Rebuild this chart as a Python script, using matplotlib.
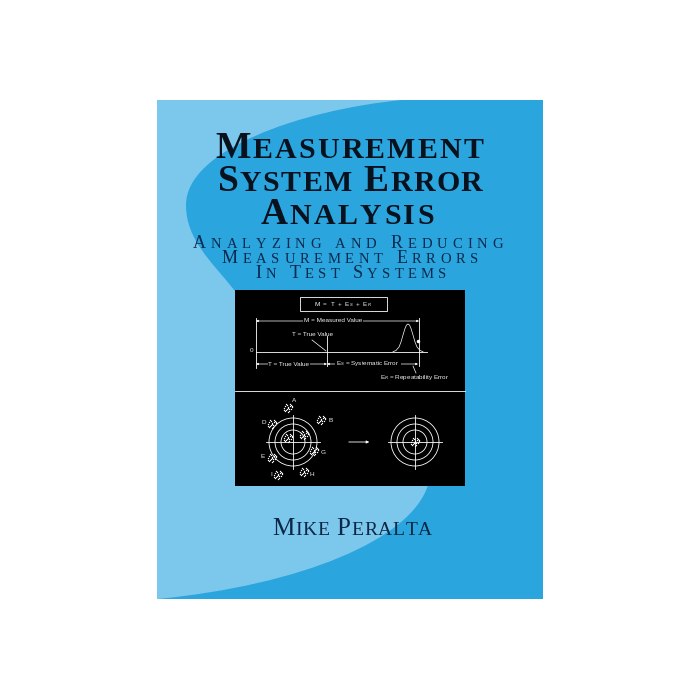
import matplotlib
matplotlib.use('Agg')
import matplotlib.pyplot as plt
from matplotlib.path import Path
from matplotlib.patches import PathPatch, Rectangle, Circle

# cover texts
title_lines = ['Measurement', 'System Error', 'Analysis']
title_centers = [349, 350, 347]
title_baselines = [158, 191, 224]
title_widths = [268, 265, 173]

subtitle_lines = ['Analyzing and Reducing', 'Measurement Errors', 'In Test Systems']
subtitle_centers = [348, 350, 351]
subtitle_baselines = [248, 263, 278]
subtitle_widths = [310, 256, 191]

author = 'Mike Peralta'

# background wave (pixel coords of the cover)
wave_pts = [(402, 100), (300, 110), (186, 150), (186, 205),
            (186, 240), (212, 262), (235, 291),
            (295, 375), (445, 430), (428, 485),
            (411, 540), (300, 585), (158, 599)]

# bell curve
bell_dx = [-15, -12, -9, -7, -5, -3, -1.5, 0, 1.5, 3, 5, 7, 9, 12, 15]
bell_h = [0.3, 1.5, 5, 10, 17, 23.5, 27, 28, 27, 23.5, 17, 10, 5, 1.5, 0.3]

# shot clusters on the left target
cluster_x = [288, 321, 272, 288, 304, 314, 272, 278, 304]
cluster_y = [408, 420, 424, 438, 435, 451, 458, 475, 472]
label_text = ['A', 'B', 'D', 'G', 'E', 'I', 'H']
label_x = [294, 331, 264, 323, 263, 271, 312]
label_y = [400, 421, 423, 453, 457, 475, 474]
# dot pattern used for one cluster
spot_dx = [-4, -3, -2, -1, 0, 1, 2, 3, 4, -2, 0, 2, -3, 3, 1, -1, 0, -4, 4]
spot_dy = [0, -2, 2, -3, 0, 3, -2, 1, -1, -4, 4, -4, 3, -3, 1, 1, -1, 2, -2]
ring_r = [24, 18, 12]

LIGHT = '#7cc7ec'
DARK = '#2aa5de'

fig = plt.figure(figsize=(7, 7), dpi=100)
ax = fig.add_axes([0, 0, 1, 1])
ax.set_xlim(0, 700)
ax.set_ylim(700, 0)
ax.axis('off')
renderer = fig.canvas.get_renderer()

# cover background
ax.add_patch(Rectangle((157, 100), 386, 499, facecolor=LIGHT, edgecolor='none'))
verts = wave_pts + [(543, 599), (543, 100), (402, 100)]
codes = [Path.MOVETO] + [Path.CURVE4] * 12 + [Path.LINETO, Path.LINETO, Path.CLOSEPOLY]
ax.add_patch(PathPatch(Path(verts, codes), facecolor=DARK, edgecolor='none'))


def small_caps(text, cx, y, big, small, color, width, weight='normal'):
    chars = []
    for ch in text:
        if ch == ' ':
            chars.append((None, small * 0.3 * 100 / 72))
            continue
        size = big if ch.isupper() else small
        t = ax.text(0, y, ch.upper(), fontsize=size, family='Liberation Serif',
                    weight=weight, color=color, ha='left', va='baseline')
        chars.append((t, t.get_window_extent(renderer).width))
    natural = sum(w for _, w in chars)
    track = (width - natural) / (len(chars) - 1)
    x = cx - width / 2
    for t, w in chars:
        if t is not None:
            t.set_x(x)
        x += w + track


for line, cx, y, w in zip(title_lines, title_centers, title_baselines, title_widths):
    small_caps(line, cx, y, 27, 21.5, '#08121e', w, weight='bold')
for line, cx, y, w in zip(subtitle_lines, subtitle_centers, subtitle_baselines, subtitle_widths):
    small_caps(line, cx, y, 13, 10.5, '#0b2a4d', w)
small_caps(author, 352, 535, 18, 14, '#0c2646', 160)

# black diagram panel
ax.add_patch(Rectangle((235, 290), 230, 196, facecolor='black', edgecolor='none'))
wl = dict(color='white', lw=0.6)
sans = dict(family='Liberation Sans', color='#f0f0f0', fontsize=4.6)
bg = dict(facecolor='black', edgecolor='none', pad=0.6)

ax.add_patch(Rectangle((300, 297), 87, 14, facecolor='none', edgecolor='white', lw=0.6))
ax.text(343, 304.5, r'M  =  T  +  E$_S$  +  E$_R$', ha='center', va='center', **sans)

arrow = dict(arrowstyle='<|-|>', color='white', lw=0.5, mutation_scale=3, shrinkA=0, shrinkB=0)
ax.annotate('', xy=(256, 321), xytext=(419, 321), arrowprops=arrow)
ax.text(333, 321, 'M = Measured Value', ha='center', va='center', bbox=bg, **sans)
ax.plot([256, 256], [318, 368], **wl)
ax.plot([419, 419], [318, 366], **wl)
ax.plot([256, 427], [352, 352], **wl)
ax.text(253, 350, '0', ha='right', va='center', **sans)
ax.plot([327, 327], [336, 366], **wl)
ax.text(313, 335, 'T = True Value', ha='center', va='center', **sans)
ax.plot([312, 326], [340, 351], color='white', lw=0.5)
ax.plot([408 + d for d in bell_dx], [352 - h for h in bell_h], color='white', lw=0.5)
ax.plot([418], [341], 'o', color='white', ms=1.5)

ax.annotate('', xy=(256, 364), xytext=(327, 364), arrowprops=arrow)
ax.annotate('', xy=(327, 364), xytext=(418, 364), arrowprops=arrow)
ax.text(289, 364, 'T = True Value', ha='center', va='center', bbox=bg, **sans)
ax.text(368, 364, r'E$_S$ = Systematic Error', ha='center', va='center', bbox=bg, **sans)
ax.text(415, 378, r'E$_R$ = Repeatability Error', ha='center', va='center', **sans)
ax.plot([416, 413], [373, 366], color='white', lw=0.5)

ax.plot([235, 465], [391, 391], **wl)

# targets
for cx in (293, 415):
    for r in ring_r:
        ax.add_patch(Circle((cx, 442), r, facecolor='none', edgecolor='white', lw=0.6))
    ax.plot([cx - 27, cx + 27], [442, 442], **wl)
    ax.plot([cx, cx], [415, 469], **wl)

for x0, y0 in zip(cluster_x + [415], cluster_y + [442]):
    ax.plot([x0 + d for d in spot_dx], [y0 + d for d in spot_dy], '.', color='white', ms=2.0, mew=0)
for s, x0, y0 in zip(label_text, label_x, label_y):
    ax.text(x0, y0, s, ha='center', va='center', **sans)

ax.annotate('', xy=(372, 442), xytext=(346, 442),
            arrowprops=dict(arrowstyle='-|>', color='white', lw=0.6, mutation_scale=4))

fig.savefig('out.png', dpi=100, facecolor='white')
